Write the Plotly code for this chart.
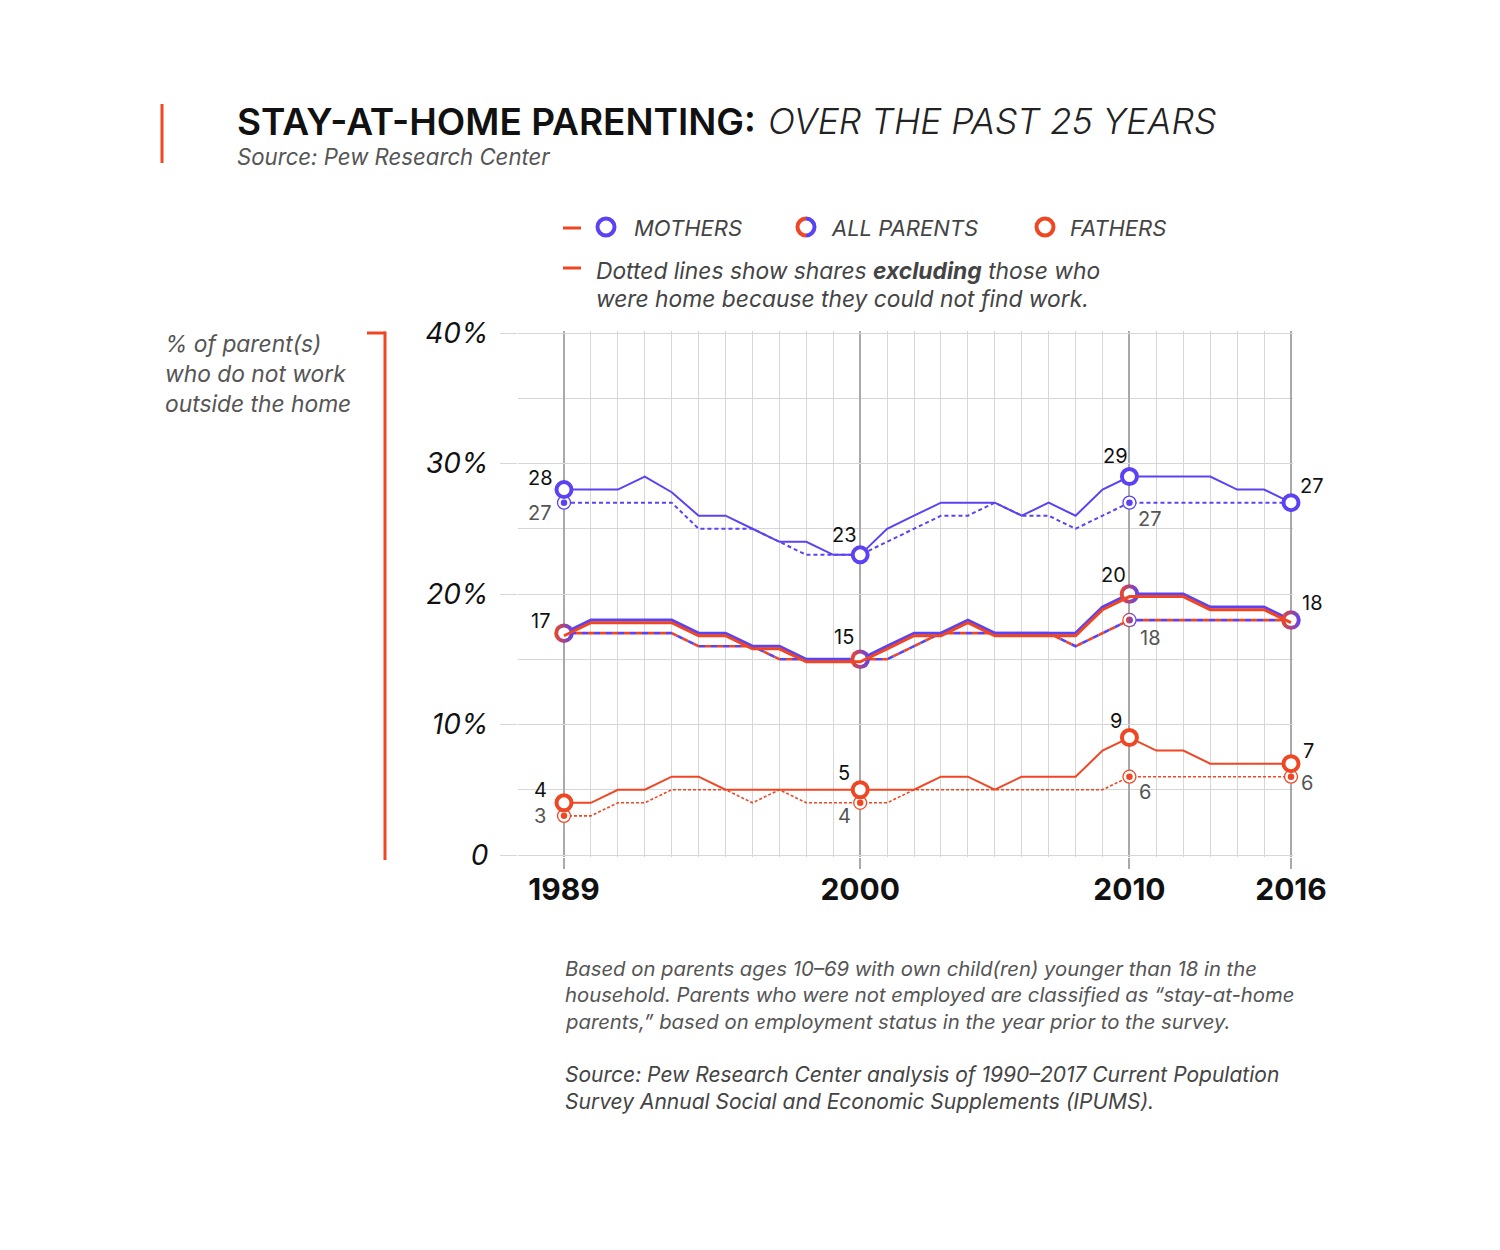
import math
import plotly.graph_objects as go

# ---------------- data ----------------
years = list(range(1989, 2017))
mothers = [28, 28, 28, 29, 27.8, 26, 26, 25, 24, 24, 23, 23,
           25, 26, 27, 27, 27, 26, 27, 26, 28, 29,
           29, 29, 29, 28, 28, 27]
mothers_excl = [27, 27, 27, 27, 27, 25, 25, 25, 24, 23, 23, 23,
                24, 25, 26, 26, 27, 26, 26, 25, 26, 27,
                27, 27, 27, 27, 27, 27]
all_parents = [17, 18, 18, 18, 18, 17, 17, 16, 16, 15, 15, 15,
               16, 17, 17, 18, 17, 17, 17, 17, 19, 20,
               20, 20, 19, 19, 19, 18]
all_excl = [17, 17, 17, 17, 17, 16, 16, 16, 15, 15, 15, 15,
            15, 16, 17, 17, 17, 17, 17, 16, 17, 18,
            18, 18, 18, 18, 18, 18]
fathers = [4, 4, 5, 5, 6, 6, 5, 5, 5, 5, 5, 5,
           5, 5, 6, 6, 5, 6, 6, 6, 8, 9,
           8, 8, 7, 7, 7, 7]
fathers_excl = [3, 3, 4, 4, 5, 5, 5, 4, 5, 4, 4, 4,
                4, 5, 5, 5, 5, 5, 5, 5, 5, 6,
                6, 6, 6, 6, 6, 6]

key_years = [1989, 2000, 2010, 2016]
x_tick_text = ["1989", "2000", "2010", "2016"]
y_tick_vals = [0, 10, 20, 30, 40]
y_tick_text = ["0", "10%", "20%", "30%", "40%"]

legend_names = ["MOTHERS", "ALL PARENTS", "FATHERS"]
legend_note = ["Dotted lines show shares <b>excluding</b> those who",
               "were home because they could not find work."]
y_label_lines = ["% of parent(s)", "who do not work", "outside the home"]
foot_lines = ["Based on parents ages 10\u201369 with own child(ren) younger than 18 in the",
              "household. Parents who were not employed are classified as \u201cstay-at-home",
              "parents,\u201d based on employment status in the year prior to the survey."]
source_lines = ["Source: Pew Research Center analysis of 1990\u20132017 Current Population",
                "Survey Annual Social and Economic Supplements (IPUMS)."]
title_main = "STAY-AT-HOME PARENTING:"
title_sub = "OVER THE PAST 25 YEARS"
subtitle = "Source: Pew Research Center"

# ---------------- style ----------------
PURPLE = "#5B43F4"
RED = "#EF4623"
GRID = "#d6d6d6"
MAJOR = "#a9a9a9"
GRAYTXT = "#555555"
FONT = "Inter"

OFF = 8
FIG_W, FIG_H = 1500 - 2 * OFF, 1250 - 2 * OFF
PAD = 2                                   # extra px so edge gridlines get drawn
PL, PR, PT, PB = 518, 1291 + PAD, 333 - PAD, 855 + PAD   # plot area in page pixels
XPX = (1291 - 564) / (2016 - 1989)        # px per year
YPX = (855 - 333) / 40.0                  # px per percent
X0 = 1989 - (564 - PL) / XPX
X1 = 2016 + PAD / XPX
Y0 = -PAD / YPX
Y1 = 40 + PAD / YPX
SHIFT = 0.2                               # two-tone offset for the all-parents line


def px(X):
    return (X - PL) / (PR - PL)


def py(Y):
    return (PB - Y) / (PB - PT)


def pick(arr):
    return [arr[years.index(y)] for y in key_years]


fig = go.Figure()

# ---------------- lines ----------------
fig.add_trace(go.Scatter(x=years, y=mothers_excl, mode="lines",
                         line=dict(color=PURPLE, width=2, dash="4px,3px")))
fig.add_trace(go.Scatter(x=years, y=fathers_excl, mode="lines",
                         line=dict(color=RED, width=1.6, dash="3px,2px")))
fig.add_trace(go.Scatter(x=years, y=all_excl, mode="lines",
                         line=dict(color=RED, width=2.6, dash="6px,6px")))
fig.add_trace(go.Scatter(x=years, y=all_excl, mode="lines",
                         line=dict(color=PURPLE, width=2.6, dash="0px,6px,6px,0px")))
fig.add_trace(go.Scatter(x=years, y=mothers, mode="lines",
                         line=dict(color=PURPLE, width=2)))
fig.add_trace(go.Scatter(x=years, y=fathers, mode="lines",
                         line=dict(color=RED, width=2)))
fig.add_trace(go.Scatter(x=years, y=all_parents, mode="lines", yaxis="y2",
                         line=dict(color=RED, width=3)))
fig.add_trace(go.Scatter(x=years, y=all_parents, mode="lines",
                         line=dict(color=PURPLE, width=3)))

# ---------------- markers: excluding series ----------------
for arr, c in [(mothers_excl, PURPLE), (fathers_excl, RED)]:
    fig.add_trace(go.Scatter(x=key_years, y=pick(arr), mode="markers", cliponaxis=False,
                             marker=dict(size=13, color="white", line=dict(color=c, width=1.3))))
    fig.add_trace(go.Scatter(x=key_years, y=pick(arr), mode="markers", cliponaxis=False,
                             marker=dict(size=6.5, color=c)))
fig.add_trace(go.Scatter(x=key_years, y=pick(all_excl), mode="markers", cliponaxis=False,
                         marker=dict(size=14.5, color=RED,
                                     gradient=dict(type="horizontal", color=PURPLE))))
fig.add_trace(go.Scatter(x=key_years, y=pick(all_excl), mode="markers", cliponaxis=False,
                         marker=dict(size=12, color="white")))
fig.add_trace(go.Scatter(x=key_years, y=pick(all_excl), mode="markers", cliponaxis=False,
                         marker=dict(size=7, color=RED,
                                     gradient=dict(type="horizontal", color=PURPLE))))

# ---------------- markers: main series ----------------
for arr, c in [(mothers, PURPLE), (fathers, RED)]:
    fig.add_trace(go.Scatter(x=key_years, y=pick(arr), mode="markers", cliponaxis=False,
                             marker=dict(size=15, color="white", line=dict(color=c, width=4))))
fig.add_trace(go.Scatter(x=key_years, y=pick(all_parents), mode="markers", cliponaxis=False,
                         marker=dict(size=19.5, color=RED,
                                     gradient=dict(type="horizontal", color=PURPLE))))
fig.add_trace(go.Scatter(x=key_years, y=pick(all_parents), mode="markers", cliponaxis=False,
                         marker=dict(size=11.5, color="white")))

# ---------------- value labels ----------------
series = {"m": mothers, "me": mothers_excl, "a": all_parents, "ae": all_excl,
          "f": fathers, "fe": fathers_excl}
label_specs = [
    ("m", 1989, -24, 12), ("me", 1989, -24, -10), ("m", 2000, -16, 20),
    ("m", 2010, -14, 21), ("me", 2010, 21, -16), ("m", 2016, 21, 17),
    ("a", 1989, -24, 12), ("a", 2000, -16, 22), ("a", 2010, -16, 19),
    ("ae", 2010, 21, -18), ("a", 2016, 21, 17),
    ("f", 1989, -24, 13), ("fe", 1989, -24, 0), ("f", 2000, -16, 17),
    ("fe", 2000, -16, -13), ("f", 2010, -13, 17), ("fe", 2010, 16, -15),
    ("f", 2016, 17, 13), ("fe", 2016, 16, -6),
]
annotations = []
for key, yr, dx, dy in label_specs:
    v = series[key][years.index(yr)]
    annotations.append(dict(
        x=yr, y=v, xref="x", yref="y", text=f"{v:g}", showarrow=False,
        xshift=dx, yshift=dy, xanchor="center", yanchor="middle",
        font=dict(family=FONT, size=20, color=GRAYTXT if key.endswith("e") else "#111111")))


def text(X, Y, s, size, color, style="normal", weight=400, xanchor="left"):
    return dict(x=px(X), y=py(Y), xref="paper", yref="paper", text=s, showarrow=False,
                xanchor=xanchor, yanchor="middle",
                font=dict(family=FONT, size=size, color=color, style=style, weight=weight))


# title block
annotations.append(text(235, 121, title_main, 37, "#111111", weight=600))
annotations.append(text(766, 121, title_sub, 35.5, "#222222", style="italic", weight=300))
annotations.append(text(235, 156, subtitle, 22.2, GRAYTXT, style="italic"))

# legend texts
for name, X in zip(legend_names, [632, 829, 1068]):
    annotations.append(text(X, 228, name, 22, "#444444", style="italic"))
for i, line in enumerate(legend_note):
    annotations.append(text(594, 270 + 29 * i, line, 22.8, "#444444", style="italic"))

# y-axis label
for i, line in enumerate(y_label_lines):
    annotations.append(text(163, 343 + 30 * i, line, 22.8, GRAYTXT, style="italic"))

# footnotes
for i, line in enumerate(foot_lines):
    annotations.append(text(563, 968 + 26.5 * i, line, 20.3, GRAYTXT, style="italic"))
for i, line in enumerate(source_lines):
    annotations.append(text(563, 1074 + 27 * i, line, 21, "#444444", style="italic"))


# ---------------- decorative shapes ----------------
def arc_path(r, a0, a1):
    n = max(1, int(math.ceil(abs(a1 - a0) / 90.0)))
    step = (a1 - a0) / n
    a = math.radians(a0)
    d = f"M{r * math.cos(a):.2f},{r * math.sin(a):.2f}"
    for i in range(n):
        s = math.radians(a0 + i * step)
        e = math.radians(a0 + (i + 1) * step)
        k = 4.0 / 3.0 * math.tan((e - s) / 4.0)
        p1 = (r * math.cos(s) - k * r * math.sin(s), r * math.sin(s) + k * r * math.cos(s))
        p2 = (r * math.cos(e) + k * r * math.sin(e), r * math.sin(e) - k * r * math.cos(e))
        p3 = (r * math.cos(e), r * math.sin(e))
        d += (f" C{p1[0]:.2f},{p1[1]:.2f} {p2[0]:.2f},{p2[1]:.2f}"
              f" {p3[0]:.2f},{p3[1]:.2f}")
    return d


def pshape(X, Y, **kw):
    base = dict(xref="paper", yref="paper", xsizemode="pixel", ysizemode="pixel",
                xanchor=px(X), yanchor=py(Y))
    base.update(kw)
    return base


def pline(X0_, Y0_, X1_, Y1_, color=RED, width=3):
    return dict(type="line", xref="paper", yref="paper", x0=px(X0_), y0=py(Y0_),
                x1=px(X1_), y1=py(Y1_), line=dict(color=color, width=width))


shapes = [
    pline(162, 104, 162, 163),              # title accent
    pline(367, 333, 385, 333),              # bracket top
    pline(385, 331.5, 385, 860),            # bracket vertical
    pline(563, 228, 581, 228),              # legend dash 1
    pline(563, 268, 581, 268),              # legend dash 2
]
R = 8.5
for X, c in [(606, PURPLE), (1045, RED)]:
    shapes.append(pshape(X, 227, type="circle", x0=-R, x1=R, y0=-R, y1=R,
                         line=dict(color=c, width=4), fillcolor="white"))
shapes.append(pshape(806, 227, type="circle", x0=-R, x1=R, y0=-R, y1=R,
                     line=dict(width=0), fillcolor="white"))
shapes.append(pshape(806, 227, type="path", path=arc_path(R, 90, 270),
                     line=dict(color=RED, width=4)))
shapes.append(pshape(806, 227, type="path", path=arc_path(R, -90, 90),
                     line=dict(color=PURPLE, width=4)))

minor_years = [y for y in years if y not in key_years]

fig.update_layout(
    width=FIG_W, height=FIG_H,
    margin=dict(l=PL - OFF, r=FIG_W - (PR - OFF), t=PT - OFF, b=FIG_H - (PB - OFF)),
    paper_bgcolor="white", plot_bgcolor="white",
    showlegend=False,
    font=dict(family=FONT),
    xaxis=dict(range=[X0, X1], tickmode="array", tickvals=key_years, ticktext=x_tick_text,
               showgrid=True, gridcolor=MAJOR, gridwidth=1.5, zeroline=False, showline=False,
               ticks="outside", ticklen=11, tickwidth=1.5, tickcolor=MAJOR,
               ticklabelstandoff=-5,
               tickfont=dict(family=FONT, size=30, color="#111111", weight=700),
               minor=dict(tickmode="array", tickvals=minor_years, showgrid=True,
                          gridcolor=GRID, gridwidth=1, ticks="")),
    yaxis=dict(range=[Y0, Y1], tickmode="array", tickvals=y_tick_vals, ticktext=y_tick_text,
               showgrid=True, gridcolor=GRID, gridwidth=1, zeroline=False, showline=False,
               ticks="outside", ticklen=17, tickwidth=1, tickcolor=GRID,
               ticklabelstandoff=6,
               tickfont=dict(family=FONT, size=28, color="#111111", style="italic"),
               minor=dict(tickmode="linear", tick0=0, dtick=5, showgrid=True,
                          gridcolor=GRID, gridwidth=1, ticks="")),
    yaxis2=dict(range=[Y0 + SHIFT, Y1 + SHIFT], overlaying="y", visible=False),
    annotations=annotations,
    shapes=shapes,
)

fig.write_html("out.html")
